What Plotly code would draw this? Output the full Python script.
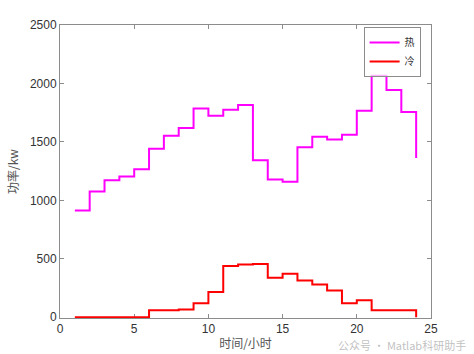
import plotly.graph_objects as go

hours = list(range(1, 25))
heat = [913, 1075, 1172, 1203, 1266, 1442, 1553, 1618, 1786, 1724, 1775, 1815,
        1342, 1177, 1158, 1453, 1544, 1521, 1561, 1766, 2065, 1943, 1755, 1363]
cold = [0, 0, 0, 0, 0, 60, 60, 65, 120, 215, 437, 450,
        455, 338, 372, 313, 279, 228, 119, 145, 60, 60, 60, 0]
x_ticks = [0, 5, 10, 15, 20, 25]
y_ticks = [0, 500, 1000, 1500, 2000, 2500]

fig = go.Figure()
fig.add_trace(go.Scatter(x=hours, y=heat, mode="lines", name="热",
                         line=dict(color="#FF00FF", width=2, shape="hv")))
fig.add_trace(go.Scatter(x=hours, y=cold, mode="lines", name="冷",
                         line=dict(color="#FF0000", width=2, shape="hv")))

axis_common = dict(showgrid=False, zeroline=False, showline=True, linecolor="#8c8c8c",
                   linewidth=1, mirror="ticks", ticks="inside", ticklen=4,
                   tickcolor="#8c8c8c", automargin=False, layer="below traces",
                   tickfont=dict(family="Liberation Sans, Arial", size=12, color="#333333"))

fig.update_layout(
    width=474, height=354,
    margin=dict(l=60, r=43, t=25, b=36),
    paper_bgcolor="white", plot_bgcolor="white",
    showlegend=True,
    legend=dict(x=0.972, y=0.993, xanchor="right", yanchor="top",
                bordercolor="#8c8c8c", borderwidth=1, bgcolor="rgba(255,255,255,0.7)",
                font=dict(family="Noto Sans CJK SC", size=10, color="#333333"),
                tracegroupgap=0, itemwidth=30),
    xaxis=dict(range=[0, 25], tickvals=x_ticks,
               title=dict(text="时间/小时", standoff=4,
                          font=dict(family="Noto Sans CJK SC", size=12, color="#555555")),
               **axis_common),
    yaxis=dict(range=[-7, 2500], tickvals=y_ticks,
               title=dict(text="功率/kw", standoff=8,
                          font=dict(family="Noto Sans CJK SC", size=12, color="#555555")),
               **axis_common),
)

fig.add_annotation(text="公众号 · Matlab科研助手", xref="paper", yref="paper",
                   x=1.1, y=-0.058, xanchor="right", yanchor="top", showarrow=False,
                   font=dict(family="Noto Sans CJK SC", size=11, color="rgba(150,150,150,0.6)"))

fig.write_html("out.html")
